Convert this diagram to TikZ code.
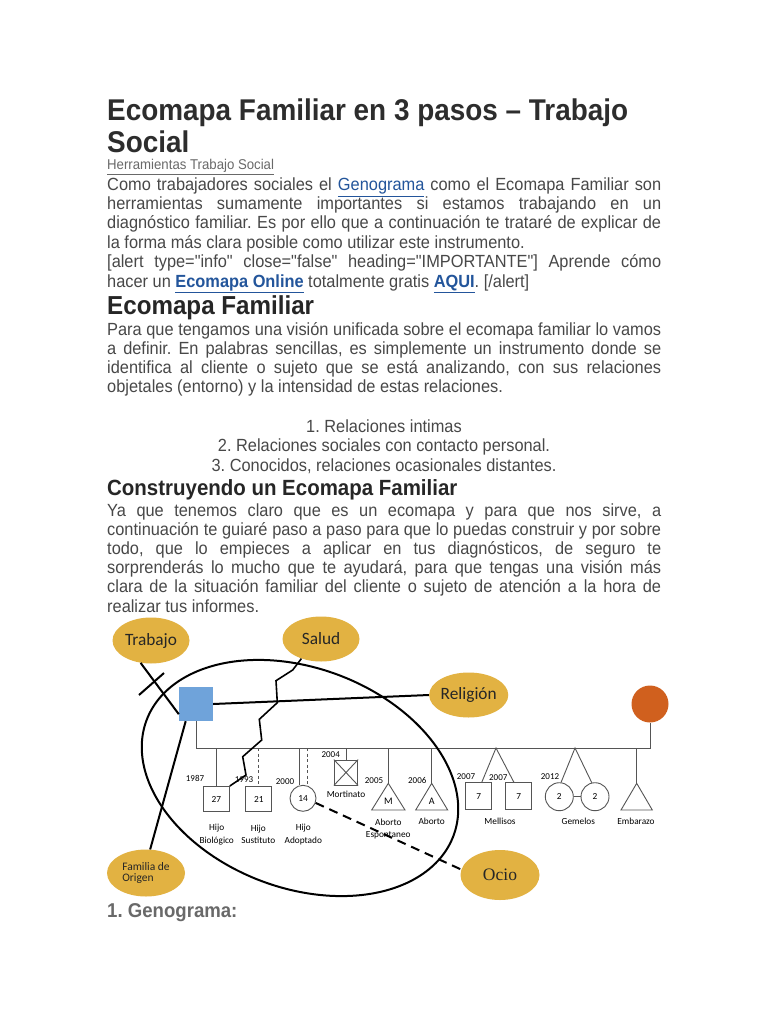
\documentclass[tikz,border=0pt]{standalone}
\usepackage{fontspec}
\setmainfont{Liberation Sans}[FakeStretch=0.93, Ligatures=TeXOff]
\newfontfamily\lblfont{Carlito}
\newfontfamily\serfont{Liberation Serif}
\usetikzlibrary{shapes.geometric,calc}
\definecolor{gold}{RGB}{226,178,66}
\definecolor{clientblue}{RGB}{111,163,218}
\definecolor{orangec}{RGB}{208,96,30}
\definecolor{genline}{RGB}{85,85,85}
\definecolor{bodytext}{RGB}{72,72,72}
\definecolor{titletext}{RGB}{45,45,45}
\definecolor{linkblue}{RGB}{35,85,155}
\definecolor{subtle}{RGB}{105,105,105}
\newcommand\lnk[1]{\textcolor{linkblue}{\underline{#1}}}
\newcommand\blnk[1]{\textcolor{linkblue}{\underline{\bfseries #1}}}
\frenchspacing
\begin{document}
\begin{tikzpicture}[x=1pt,y=-1pt,
  body/.style={anchor=base west, inner sep=0, text=bodytext, font=\fontsize{17.6}{19.5}\selectfont},
  bodyc/.style={anchor=base, inner sep=0, text=bodytext, font=\fontsize{17.6}{19.5}\selectfont},
  ttl/.style={anchor=base west, inner sep=0, text=titletext, font=\fontsize{30}{32}\selectfont\bfseries},
  eco/.style={line width=2pt, black},
  gen/.style={line width=0.9pt, draw=genline},
  bubble/.style={ellipse, fill=gold, inner sep=0, text=black!85, font=\lblfont\fontsize{17.3}{17.3}\selectfont},
  pbox/.style={rectangle, draw=genline, line width=0.9pt, fill=white, minimum width=26pt, minimum height=25pt, inner sep=0, font=\lblfont\fontsize{9.3}{9.3}\selectfont},
  pcirc/.style={circle, draw=genline, line width=0.9pt, fill=white, inner sep=0, font=\lblfont\fontsize{9.3}{9.3}\selectfont},
  yr/.style={inner sep=0, font=\lblfont\fontsize{9}{9}\selectfont},
  lbl/.style={inner sep=0, align=center, font=\lblfont\fontsize{9.3}{12.4}\selectfont},
]
\useasboundingbox (0,0) rectangle (768,1024);
\fill[white] (0,0) rectangle (768,1024);

% ---------- title and text ----------
\node[ttl] (t1) at (107,121) {Ecomapa Familiar en 3 pasos – Trabajo};
\node[ttl] (t2) at (107,153) {Social};
\node[anchor=base west, inner sep=0, text=subtle, font=\fontsize{14.2}{16}\selectfont] (tag) at (107,170) {\underline{Herramientas Trabajo Social}};

\node[body] (pa1) at (107,191) {\hbox to 554pt{Como trabajadores sociales el \lnk{Genograma} como el Ecomapa Familiar son}};
\node[body] (pa2) at (107,210) {\hbox to 554pt{herramientas sumamente importantes si estamos trabajando en un}};
\node[body] (pa3) at (107,229) {\hbox to 554pt{diagnóstico familiar. Es por ello que a continuación te trataré de explicar de}};
\node[body] (pa4) at (107,248) {la forma más clara posible como utilizar este instrumento.};
\node[body] (pa5) at (107,267) {\hbox to 554pt{[alert type="info" close="false" heading="IMPORTANTE"] Aprende cómo}};
\node[body] (pa6) at (107,287) {hacer un \blnk{Ecomapa Online} totalmente gratis \blnk{AQUI}. [/alert]};

\node[anchor=base west, inner sep=0, text=black!85, font=\fontsize{26}{28}\selectfont\bfseries] (h1) at (107,314) {Ecomapa Familiar};

\node[body] (pb1) at (107,335) {\hbox to 554pt{Para que tengamos una visión unificada sobre el ecomapa familiar lo vamos}};
\node[body] (pb2) at (107,354) {\hbox to 554pt{a definir. En palabras sencillas, es simplemente un instrumento donde se}};
\node[body] (pb3) at (107,373) {\hbox to 554pt{identifica al cliente o sujeto que se está analizando, con sus relaciones}};
\node[body] (pb4) at (107,392) {objetales (entorno) y la intensidad de estas relaciones.};

\node[bodyc] (l1) at (384,432) {1. Relaciones intimas};
\node[bodyc] (l2) at (384,451) {2. Relaciones sociales con contacto personal.};
\node[bodyc] (l3) at (384,471) {3. Conocidos, relaciones ocasionales distantes.};

\node[anchor=base west, inner sep=0, text=black!85, font=\fontsize{22}{24}\selectfont\bfseries] (h2) at (107,495) {Construyendo un Ecomapa Familiar};

\node[body] (pc1) at (107,516) {\hbox to 554pt{Ya que tenemos claro que es un ecomapa y para que nos sirve, a}};
\node[body] (pc2) at (107,535) {\hbox to 554pt{continuación te guiaré paso a paso para que lo puedas construir y por sobre}};
\node[body] (pc3) at (107,554) {\hbox to 554pt{todo, que lo empieces a aplicar en tus diagnósticos, de seguro te}};
\node[body] (pc4) at (107,573) {\hbox to 554pt{sorprenderás lo mucho que te ayudará, para que tengas una visión más}};
\node[body] (pc5) at (107,592) {\hbox to 554pt{clara de la situación familiar del cliente o sujeto de atención a la hora de}};
\node[body] (pc6) at (107,612) {realizar tus informes.};

\node[anchor=base west, inner sep=0, text=subtle, font=\fontsize{20}{22}\selectfont\bfseries] (h3) at (107,917) {1. Genograma:};

% ---------- ecomap nodes ----------
\node[bubble, minimum width=77pt, minimum height=46pt] (trabajo) at (151,640.5) {Trabajo};
\node[bubble, minimum width=77pt, minimum height=45pt] (salud) at (321,639) {Salud};
\node[bubble, minimum width=78pt, minimum height=45pt] (religion) at (468.7,695) {Religión};
\node[bubble, minimum width=79pt, minimum height=50pt, font=\serfont\fontsize{17.5}{17.5}\selectfont] (ocio) at (500,875) {Ocio};
\node[bubble, minimum width=78pt, minimum height=47pt, align=left, font=\lblfont\fontsize{11.5}{11.7}\selectfont] (familia) at (146,873) {Familia de\\Origen};
\node[rectangle, fill=clientblue, minimum size=34pt, inner sep=0] (client) at (196,704) {};
\node[circle, fill=orangec, minimum size=37pt, inner sep=0] (orange) at (650,704) {};

% ---------- genogram ----------
\coordinate (bus) at (400,748);
\draw[gen] (client.south) -- (client.south |- bus) -- (orange.south |- bus) -- (orange.south);

\node[pbox] (b27) at (216.3,799) {27};
\node[pbox] (b21) at (258.8,799) {21};
\node[pcirc, minimum size=26pt] (c14) at (303,798.3) {14};
\node[pbox, minimum width=23.4pt, minimum height=25pt] (mort) at (346,772.5) {};
\draw[gen] (mort.north west) -- (mort.south east) (mort.north east) -- (mort.south west);

\draw[gen] (b27.north |- bus) -- (b27.north);
\draw[gen, dash pattern=on 3pt off 2.5pt] (b21.north |- bus) -- (b21.north);
\coordinate (c14a) at ($(c14.north)+(-4,0.6)$);
\coordinate (c14b) at ($(c14.north)+(4,0.6)$);
\draw[gen] (c14a |- bus) -- (c14a);
\draw[gen, dash pattern=on 3pt off 2.5pt] (c14b |- bus) -- (c14b);
\draw[gen] (mort.north |- bus) -- (mort.north);

% abortions
\coordinate (mA) at (388.3,783.3);
\draw[gen] (mA |- bus) -- (mA);
\draw[gen] (mA) -- (371.7,810) -- (405,810) -- cycle;
\node[inner sep=0, font=\lblfont\fontsize{10}{10}\selectfont] (mtxt) at (388.3,801) {M};
\coordinate (aA) at (431.7,783.3);
\draw[gen] (aA |- bus) -- (aA);
\draw[gen] (aA) -- (415.7,810) -- (447.7,810) -- cycle;
\node[inner sep=0, font=\lblfont\fontsize{10}{10}\selectfont] (atxt) at (431.7,801) {A};

% mellisos
\node[pbox, minimum height=27pt] (m1) at (478.7,796.4) {7};
\node[pbox, minimum height=27pt] (m2) at (518.7,796.4) {7};
\coordinate (mapex) at (496,748);
\draw[gen] ($(m1.north)+(3,0)$) -- (mapex) -- ($(m2.north)+(-4.7,0)$);

% gemelos
\node[pcirc, minimum size=28pt] (g1) at (559.3,796.7) {2};
\node[pcirc, minimum size=28pt] (g2) at (595,796.7) {2};
\coordinate (gapex) at (575,748);
\draw[gen] (g1.83) -- (gapex) -- (g2.103);
\draw[gen] (g1.east) -- (g2.west);

% embarazo
\coordinate (eA) at (636.7,783.3);
\draw[gen] (eA |- bus) -- (eA);
\draw[gen] (eA) -- (621,810) -- (652.3,810) -- cycle;

% years
\node[yr] (y1) at (195,778.3) {1987};
\node[yr] (y2) at (244,780) {1993};
\node[yr] (y3) at (285,781.7) {2000};
\node[yr] (y4) at (330.7,755) {2004};
\node[yr] (y5) at (374,780.7) {2005};
\node[yr] (y6) at (417.3,780.7) {2006};
\node[yr] (y7) at (466,776.7) {2007};
\node[yr] (y8) at (498.3,777.3) {2007};
\node[yr] (y9) at (550,776.7) {2012};

% labels
\node[lbl] (lb1) at (216.7,834.5) {Hijo\\Biológico};
\node[lbl] (lb2) at (258.3,834.5) {Hijo\\Sustituto};
\node[lbl] (lb3) at (303.3,834.5) {Hijo\\Adoptado};
\node[lbl] (lb4) at (346,794) {Mortinato};
\node[lbl] (lb5) at (388.3,828.8) {Aborto\\Espontaneo};
\node[lbl] (lb6) at (431.7,821.7) {Aborto};
\node[lbl] (lb7) at (500,821.7) {Mellisos};
\node[lbl] (lb8) at (578.3,821.7) {Gemelos};
\node[lbl] (lb9) at (636,821.7) {Embarazo};

% ---------- ecomap connectors ----------
\draw[eco] plot[domain=0:360, samples=120, smooth cycle] ({300 + 164*cos(\x)*cos(20.7) - 110*sin(\x)*sin(20.7)}, {778 + 164*cos(\x)*sin(20.7) + 110*sin(\x)*cos(20.7)});

\draw[eco] (trabajo.245) -- ($(client.south west)+(0,-7)$);
\coordinate (cr1) at (139,695);
\coordinate (cr2) at (164,673);
\draw[eco] (cr1) -- (cr2);

\draw[eco] (client.east) -- (religion.west);

\draw[eco] ($(client.south west)!0.2!(client.south east)$) -- (familia.80);

\draw[eco, line width=1.6pt] (salud.225) -- (292.7,670) -- (276,680.7) -- (277.3,702.7) -- (259.3,719.3) -- (261.7,740) -- (242.7,756.7) -- (246,775) -- (b27.north east);

\draw[eco, dash pattern=on 9pt off 6pt] (c14.-20) -- (ocio.172);
\end{tikzpicture}
\end{document}
